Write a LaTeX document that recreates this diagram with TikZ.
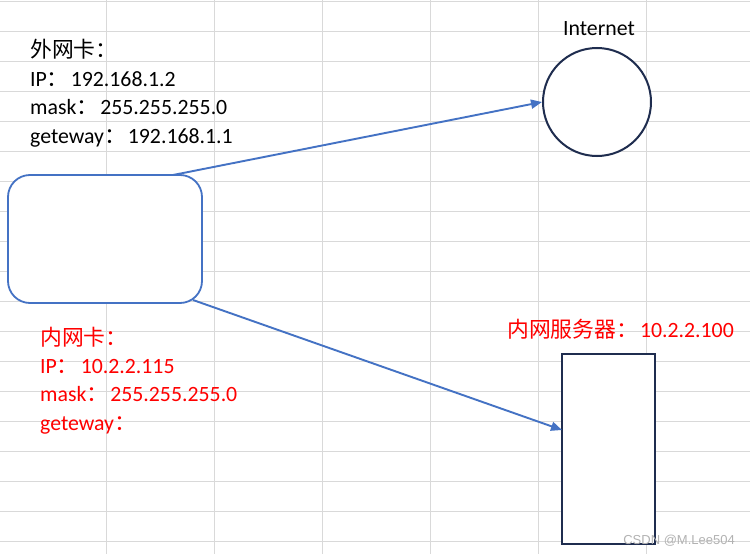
\documentclass[tikz,border=0pt]{standalone}
\usepackage{fontspec}
\setmainfont{Carlito}
\newfontfamily\cjk{Noto Sans CJK SC}
\newfontfamily\wmfont{Liberation Sans}
\usetikzlibrary{arrows.meta}
\definecolor{gridc}{HTML}{D9D9D9}
\definecolor{lnblue}{HTML}{4472C4}
\definecolor{navy}{HTML}{1F2D4F}
\newcommand{\fcolon}{{\cjk ：}\hspace{2pt}}
\tikzset{
  txt/.style={anchor=base west, inner sep=0pt, font=\fontsize{21.8}{24}\selectfont},
  redtxt/.style={txt, text=red},
  conn/.style={draw=lnblue, line width=1.9pt, -{Triangle[length=11pt,width=9pt]}},
  navyline/.style={draw=navy, line width=2pt, fill=white},
}
\begin{document}
\begin{tikzpicture}[x=1pt,y=-1pt]
\useasboundingbox (0,0) rectangle (750,554);
\fill[white] (0,0) rectangle (750,554);
% spreadsheet grid
\foreach \k in {0,...,18} \draw[gridc, line width=1pt] (0,1.5+30*\k) -- (750,1.5+30*\k);
\foreach \k in {0,...,5} \draw[gridc, line width=1pt] (106.5+108*\k,0) -- (106.5+108*\k,554);
% shapes
\node[draw=lnblue, line width=1.8pt, fill=white, rounded corners=22pt, minimum width=194pt, minimum height=128pt, inner sep=0pt] (box) at (105,239) {};
\node[navyline, circle, minimum size=108pt, inner sep=0pt] (inet) at (597,102) {};
\node[navyline, rectangle, minimum width=93pt, minimum height=190pt, inner sep=0pt] (srv) at (608.5,449) {};
% connectors
\coordinate (s1) at (173,175);
\coordinate (s2) at (193,300);
\coordinate (e2) at (562,430);
\draw[conn] (s1) -- (inet.west);
\draw[conn] (s2) -- (e2);
% texts
\node[txt] (t1) at (30,57) {{\cjk 外网卡：}};
\node[txt] (t2) at (30,86) {IP\fcolon 192.168.1.2};
\node[txt] (t3) at (30,114.5) {mask\fcolon 255.255.255.0};
\node[txt] (t4) at (30,143) {geteway\fcolon 192.168.1.1};
\node[redtxt] (r1) at (40,345) {{\cjk 内网卡：}};
\node[redtxt] (r2) at (40,373.3) {IP\fcolon 10.2.2.115};
\node[redtxt] (r3) at (40,401.8) {mask\fcolon 255.255.255.0};
\node[redtxt] (r4) at (40,430.3) {geteway{\cjk ：}};
\node[redtxt] (r5) at (507,337.7) {{\cjk 内网服务器：}\hspace{2pt}10.2.2.100};
\node[txt, anchor=base] (it) at (599,35.7) {Internet};
\node[anchor=base east, inner sep=0pt, text=black!30, font=\wmfont\fontsize{13}{15}\selectfont] (wm) at (735,544) {CSDN @M.Lee504};
\end{tikzpicture}
\end{document}
